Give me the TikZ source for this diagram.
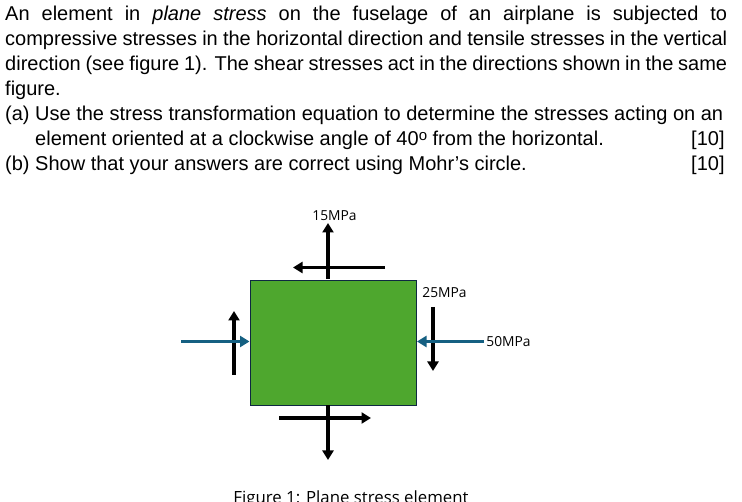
\documentclass[tikz,border=0pt]{standalone}
\usepackage{fontspec}
\setmainfont{Liberation Sans}
\newfontfamily\labelfont{Open Sans}
\usetikzlibrary{arrows.meta}
\definecolor{elemgreen}{RGB}{78,167,46}
\definecolor{elemedge}{RGB}{14,40,65}
\definecolor{compblue}{RGB}{21,96,130}
\tikzset{
  textline/.style={anchor=base west,inner sep=0pt,font=\fontsize{20}{24}\selectfont},
  tagline/.style={inner sep=0pt,font=\labelfont\fontsize{13.8}{16}\selectfont},
  stress/.style={line width=3.1pt,-{Triangle[length=9.5pt,width=11pt]}},
  comp/.style={stress,compblue}
}
\newcommand{\fullline}[2]{\makebox[#1pt][s]{#2}}
\begin{document}
\begin{tikzpicture}[x=1pt,y=-1pt]
   \useasboundingbox (0,0) rectangle (742,502);
   \clip (0,0) rectangle (742,502);
   % question text
   \node[textline] (line1) at (5,20.5) {\fullline{722}{An element in \textit{plane stress} on the fuselage of an airplane is subjected to}};
   \node[textline] (line2) at (5,45.5) {\fullline{722}{compressive stresses in the horizontal direction and tensile stresses in the vertical}};
   \node[textline] (line3) at (5,70.5) {\fullline{722}{direction (see figure 1). The shear stresses act in the directions shown in the same}};
   \node[textline] (line4) at (5,95.5) {figure.};
   \node[textline] (line5) at (5,120.5) {\fullline{718}{(a) Use the stress transformation equation to determine the stresses acting on an}};
   \node[textline] (line6) at (35,145.5) {element oriented at a clockwise angle of 40{\fontsize{15}{15}\selectfont\raisebox{5pt}{o}} from the horizontal.};
   \node[textline] (mark1) at (691,145.5) {[10]};
   \node[textline] (line7) at (5,170.5) {(b) Show that your answers are correct using Mohr’s circle.};
   \node[textline] (mark2) at (691,170.5) {[10]};
   % element
   \node[draw=elemedge,fill=elemgreen,line width=1.5pt,minimum width=166pt,minimum height=125pt,
         inner sep=0pt,anchor=north west] (element) at (249.5,280) {};
   \coordinate (topend) at (328,223);
   \coordinate (topbase) at (328,279);
   \coordinate (botend) at (328,460);
   \coordinate (botbase) at (328,405);
   \coordinate (shtopa) at (385,267.5);
   \coordinate (shtopb) at (293,267.5);
   \coordinate (shbota) at (279,418);
   \coordinate (shbotb) at (371,418);
   \coordinate (shlefta) at (234,375);
   \coordinate (shleftb) at (234,311);
   \coordinate (shrighta) at (433,307);
   \coordinate (shrightb) at (433,371);
   \coordinate (compleft) at (181,341.5);
   \coordinate (compright) at (484,341.5);
   \draw[stress] (topbase) -- (topend);
   \draw[stress] (botbase) -- (botend);
   \draw[stress] (shtopa) -- (shtopb);
   \draw[stress] (shbota) -- (shbotb);
   \draw[stress] (shlefta) -- (shleftb);
   \draw[stress] (shrighta) -- (shrightb);
   \draw[comp] (compleft) -- (compleft -| element.west);
   \draw[comp] (compright) -- (compright -| element.east);
   % labels
   \node[tagline] (ltop) at (334.5,215.5) {15MPa};
   \node[tagline] (lshear) at (444.5,292.5) {25MPa};
   \node[tagline] (lcomp) at (508.5,341.5) {50MPa};
   \node[tagline,font=\labelfont\fontsize{16.8}{20}\selectfont] (caption) at (351,499) {Figure 1: Plane stress element};
\end{tikzpicture}
\end{document}
